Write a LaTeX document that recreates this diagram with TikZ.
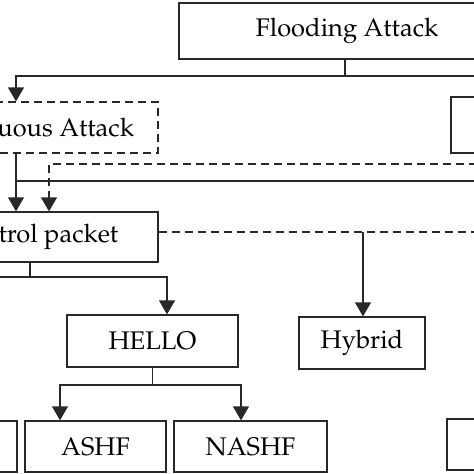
\documentclass[tikz,border=0pt]{standalone}
\usepackage[T1]{fontenc}
\usepackage{mathpazo}
\usetikzlibrary{arrows.meta}
\definecolor{l1}{RGB}{40,40,40}

\begin{document}
\begin{tikzpicture}[
    x=1pt, y=-1pt,
    font=\fontsize{25.5}{30}\selectfont,
    l/.style={
        line width=1.3pt,
        color=l1
    },
    a/.style={
        l, -{Triangle[width=16pt,length=14pt]}
    },
    dl/.style={
        l, dash pattern=on 8pt off 5pt
    },
    e/.style={
        draw=l1, line width=1.3pt, rectangle, inner sep=0pt,
        minimum height=51pt
    },
    de/.style={e, dash pattern=on 8pt off 5pt}
]
    \useasboundingbox (0,0) rectangle (474,474);
    \clip (0,0) rectangle (474,474);

    \node [e, minimum width=336pt, minimum height=56pt] (flood) at (347, 31) {Flooding Attack};
    \node [de, minimum width=262pt] (cont) at (27, 127.5) {Continuous Attack};
    \node [e, minimum width=100pt, minimum height=56pt] (rmid) at (501, 125) {};
    \node [e, minimum width=246pt, minimum height=50pt] (ctrl) at (35, 237) {Control packet};
    \node [e, minimum width=171pt, minimum height=52pt] (hello) at (152.5, 341) {HELLO};
    \node [e, minimum width=126pt, minimum height=52pt] (hybrid) at (362, 343) {Hybrid};
    \node [e, minimum width=141pt] (ashf) at (95.5, 446.5) {ASHF};
    \node [e, minimum width=153pt] (nashf) at (250.5, 446.5) {NASHF};
    \node [e, minimum width=114pt] (lbox) at (-40, 446.5) {};
    \node [e, minimum width=126pt] (rbox) at (510, 444.5) {};

    \coordinate (fj) at (345, 76);
    \coordinate (cj) at (16, 181);
    \coordinate (dsrc) at (490, 164);
    \coordinate (hsrc) at (490, 232);
    \coordinate (hj) at (363, 232);
    \coordinate (cs) at (30, 277);
    \coordinate (cl) at (-10, 277);
    \coordinate (hs) at (152.5, 385);

    % flooding attack
    \draw [l] (flood.south -| fj) -- (fj);
    \draw [a] (fj) -| ([xshift=-11pt]cont.north);
    \draw [a] (fj) -| (rmid.north);

    % into control packet
    \draw [a] ([xshift=-11pt]cont.south) -- ([xshift=-19pt]ctrl.north);
    \draw [l] (rmid.south) |- (cj);
    \draw [dl, -{Triangle[width=16pt,length=14pt]}] (dsrc) -| ([xshift=14pt]ctrl.north);

    % control packet
    \draw [dl] ([yshift=5pt]ctrl.east) -- (hsrc);
    \draw [a] (hj) -- (hybrid.north -| hj);
    \draw [l] ([xshift=-5pt]ctrl.south) -- (cs);
    \draw [a] (cs) -| ([xshift=14.5pt]hello.north);
    \draw [l] (cs) -- (cl);

    % hello
    \draw [l] (hello.south) -- (hs);
    \draw [a] (hs) -| ([xshift=-35.5pt]ashf.north);
    \draw [a] (hs) -| ([xshift=-9.5pt]nashf.north);

\end{tikzpicture}
\end{document}
